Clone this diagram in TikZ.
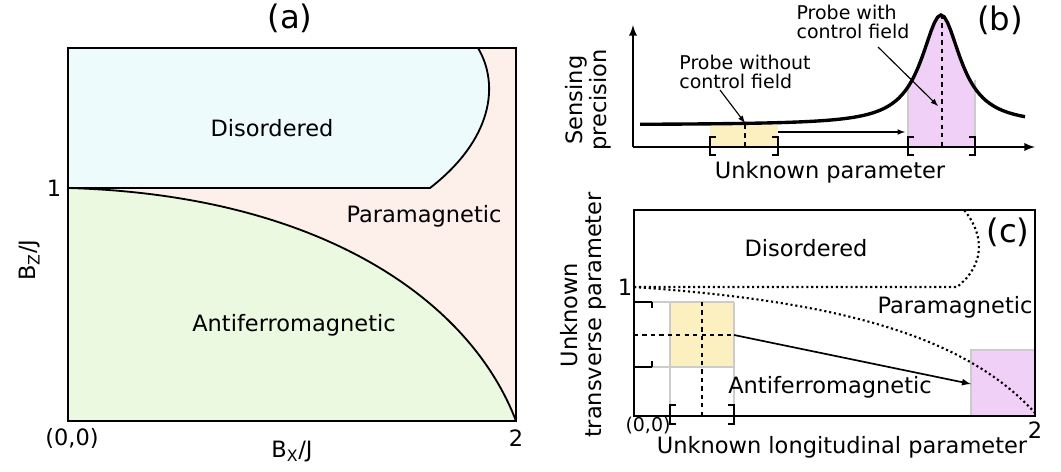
\documentclass[tikz,border=0pt]{standalone}
\usepackage{fontspec}
\setmainfont{DejaVu Sans}
\usepackage{xcolor}
\usetikzlibrary{positioning}
\definecolor{discol}{HTML}{EEFBFD}
\definecolor{parcol}{HTML}{FDEFEA}
\definecolor{afmcol}{HTML}{EBF9E0}
\definecolor{probey}{HTML}{FCEFC0}
\definecolor{probep}{HTML}{F1D0F7}
\tikzset{
  lbl/.style={inner sep=0pt,font=\fontsize{16}{17}\selectfont},
  small/.style={inner sep=0pt,font=\fontsize{13.5}{14}\selectfont,align=left},
  ttl/.style={inner sep=0pt,font=\fontsize{23}{24}\selectfont},
  brk/.style={line width=1.8pt},
  grid/.style={gray!40,line width=1.2pt},
  dot/.style={line width=1.5pt,dotted},
}
\begin{document}
\begin{tikzpicture}[x=0.025cm,y=-0.025cm,>=latex]
\useasboundingbox (0,0) rectangle (1061,472);
% panel (a)
\fill[parcol] (68,48) rectangle (516,421);
\fill[discol] (68,48) -- (478,48) .. controls (500,85) and (492,140) .. (430,188) -- (68,188) -- cycle;
\fill[afmcol] (68,188) .. controls (320,195) and (470,300) .. (516,421) -- (68,421) -- cycle;
\draw[line width=1.3pt] (478,48) .. controls (500,85) and (492,140) .. (430,188) -- (68,188);
\draw[line width=1.3pt] (68,188) .. controls (320,195) and (470,300) .. (516,421);
\draw[line width=1.6pt] (68,48) rectangle (516,421);
\node[ttl] (ta) at (290,18) {(a)};
\node[lbl] (dis) at (272,128) {Disordered};
\node[lbl] (para) at (424,216) {Paramagnetic};
\node[lbl] (afm) at (294,325) {Antiferromagnetic};
\node[lbl] (one) at (54,188) {1};
\node[lbl] (orig) at (72,438) {(0,0)};
\node[lbl] (two) at (516,438) {2};
\node[lbl,rotate=90] (bz) at (30,260) {B$_{\mathrm{Z}}$/J};
\node[lbl] (bx) at (292,452) {B$_{\mathrm{X}}$/J};
% panel (b)
\fill[probey] (710,125) rectangle (778,147);
\fill[probep] (908,147) -- plot[domain=908:975,samples=30] (\x,{125-110/(1+((\x-941)/24)^2)}) -- (975,147) -- cycle;
\draw[grid] (908,88) -- (908,147) (975,80) -- (975,147);
\draw[line width=2.4pt] plot[domain=640:1025,samples=120] (\x,{125-110/(1+((\x-941)/24)^2)});
\draw[->,line width=1.6pt] (633,147) -- (633,25);
\draw[->,line width=1.6pt] (633,147) -- (1035,147);
\draw[dashed,line width=1.2pt] (745,125) -- (745,147) (942,15) -- (942,147);
\coordinate (bl) at (778,132);
\coordinate (br) at (905,132);
\draw[->,line width=0.8pt] (bl) -- (br);
\foreach \a/\b in {710/778,908/975}{
  \draw[brk] (\a+6,137) -- (\a,137) -- (\a,155) -- (\a+6,155);
  \draw[brk] (\b-6,137) -- (\b,137) -- (\b,155) -- (\b-6,155);
}
\node[small] (pwo) at (745,72) {Probe without\\control field};
\node[small] (pw) at (853,22) {Probe with\\control field};
\coordinate (pwoend) at (745,123);
\coordinate (pwend) at (938,106);
\draw[->,line width=0.8pt] (720,90) -- (pwoend);
\draw[->,line width=0.8pt] (878,47) -- (pwend);
\node[ttl] (tb) at (1000,20) {(b)};
\node[lbl,rotate=90,align=center] (sens) at (588,100) {Sensing\\precision};
\node[lbl] (upar) at (830,172) {Unknown parameter};
% panel (c)
\fill[probey] (670,302) rectangle (734,367);
\fill[probep] (971,350) rectangle (1035,416);
\draw[grid] (670,302) -- (670,416) (734,302) -- (734,416)
  (634,302) -- (734,302) (634,367) -- (734,367) (971,350) rectangle (1035,416);
\draw[dashed,line width=1.2pt] (702,302) -- (702,416) (634,335) -- (734,335);
\draw[dot] (634,287) -- (957,287) .. controls (985,265) and (985,235) .. (964,210);
\draw[dot] (634,287) .. controls (820,300) and (960,330) .. (1035,413);
\draw[line width=1.6pt] (634,210) rectangle (1035,416);
\coordinate (cl) at (734,335);
\coordinate (cr) at (971,384);
\draw[->,line width=1.2pt] (cl) -- (cr);
\draw[brk] (634,302) -- (652,302) (652,302) -- (652,308);
\draw[brk] (634,367) -- (652,367) (652,367) -- (652,361);
\draw[brk] (676,405) -- (670,405) -- (670,424) -- (676,424);
\draw[brk] (728,405) -- (734,405) -- (734,424) -- (728,424);
\node[ttl] (tc) at (1008,232) {(c)};
\node[lbl] (dis2) at (806,248) {Disordered};
\node[lbl] (para2) at (955,307) {Paramagnetic};
\node[lbl] (afm2) at (830,387) {Antiferromagnetic};
\node[lbl] (one2) at (625,287) {1};
\node[small] (orig2) at (648,426) {(0,0)};
\node[lbl] (two2) at (1035,430) {2};
\node[lbl] (ulong) at (842,447) {Unknown longitudinal parameter};
\node[lbl,rotate=90,align=center] (utr) at (583,315) {Unknown\\transverse parameter};
\end{tikzpicture}
\end{document}
